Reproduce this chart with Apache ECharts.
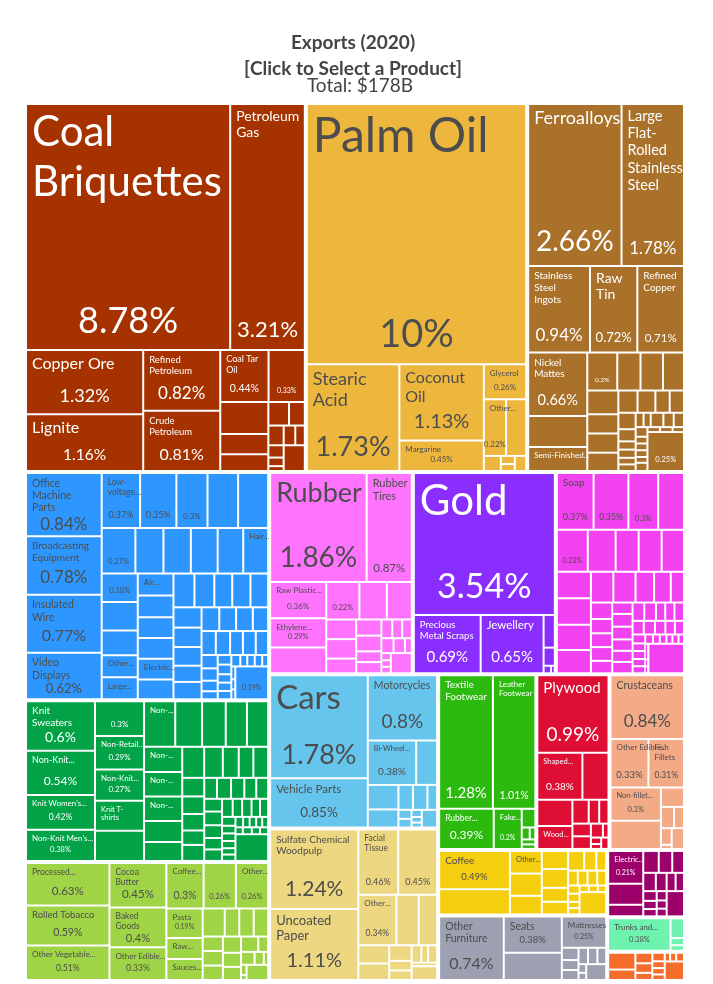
<!DOCTYPE html>
<html>
<head>
<meta charset="utf-8">
<style>html,body{margin:0;background:#fff}#main{width:713px;height:984px}</style>
<script src="https://cdn.jsdelivr.net/npm/echarts@6/dist/echarts.min.js"></script>
</head>
<body>
<div id="main"></div>
<script>
// share of exports in percent, in the order the cells appear. '' = cell too small to carry a name
const mineralNames = ['Coal Briquettes','Petroleum Gas','Copper Ore','Lignite','Refined Petroleum','Crude Petroleum','Coal Tar Oil'];
const mineralValues = [8.78,3.21,1.32,1.16,.82,.81,.44,.33,.27,.17,.14,.085,.065,.053,.04,.033,.033,.023,.013,.095];
const oilNames = ['Palm Oil','Stearic Acid','Coconut Oil','Margarine','Glycerol','Other...'];
const oilValues = [10,1.73,1.13,.45,.26,.22,.2,.045,.02,.017,.03];
const metalNames = ['Ferroalloys','Large Flat-Rolled Stainless Steel','Stainless Steel Ingots','Raw Tin','Refined Copper','Nickel Mattes','','Semi-Finished...'];
const metalValues = [2.66,1.78,.94,.72,.71,.66,.32,.25,.2,.155,.15,.14,.13,.105,.105,.1,.075,.07,.056,.056,.05,.037,.025,.025,.02,.02,.02,.018,.032,.026,.026,.02,.014,.014,.014,.012,.017,.011,.011,.01,.25];
const machineNames = ['Office Machine Parts','Broadcasting Equipment','Insulated Wire','Video Displays','Low-voltage...','','','','','','','','','','Hair...','','','','Other...','Large...','Air...','','','','Electric...'];
const machineValues = [.84,.78,.77,.62,.37,.35,.3,.295,.29,.27,.225,.22,.215,.205,.2,.18,.18,.157,.14,.14,.137,.137,.13,.13,.13,.124,.124,.118,.106,.108,.105,.1,.096,.092,.08,.086,.074,.07,.07,.064,.06,.06,.054,.054,.052,.038,.035,.03,.023,.023,.023,.02,.02,.02,.018,.014,.015,.015,.012,.009,.007,.007,.19];
const textileNames = ['Knit Sweaters','Non-Knit...',"Knit Women's...","Non-Knit Men's...",'','Non-Retail...','Non-Knit...','Knit T-shirts','','Non-...','','','','','Non-...','Non-...','Non-...'];
const textileValues = [.6,.54,.42,.38,.3,.29,.27,.26,.26,.25,.215,.19,.17,.17,.17,.165,.165,.14,.128,.12,.102,.087,.08,.081,.072,.068,.064,.056,.062,.047,.052,.049,.044,.044,.04,.043,.04,.036,.036,.034,.03,.03,.027,.026,.021,.018,.018,.017,.015,.015,.014,.012,.012,.011,.011,.009,.011,.01,.01,.154];
const foodNames = ['Processed...','Rolled Tobacco','Other Vegetable...','Cocoa Butter','Baked Goods','Other Edible...','Coffee...','','Other...','Pasta','Raw...','Sauces...'];
const foodValues = [.63,.59,.51,.45,.4,.33,.3,.26,.26,.19,.135,.135,.11,.072,.072,.072,.052,.052,.052,.052,.045,.042,.047,.027,.031,.021,.01,.01,.005,.058];
const rubberNames = ['Rubber','Rubber Tires','Raw Plastic...','Ethylene...'];
const rubberValues = [1.86,.87,.36,.29,.256,.22,.182,.166,.104,.103,.078,.072,.07,.048,.05,.036,.033,.032,.032,.03,.018,.012,.011,.011,.075];
const goldNames = ['Gold','Precious Metal Scraps','Jewellery'];
const goldValues = [3.54,.69,.65,.065,.036,.01,.005];
const chemNames = ['Soap'];
const chemValues = [.37,.35,.3,.26,.23,.207,.171,.171,.166,.16,.16,.153,.14,.122,.121,.101,.091,.072,.062,.054,.052,.052,.047,.041,.046,.046,.041,.04,.041,.038,.038,.03,.03,.031,.027,.027,.025,.023,.022,.02,.017,.018,.016,.016,.013,.011,.011,.01,.01,.009,.009,.004,.004,.186];
const carNames = ['Cars','Vehicle Parts','Motorcycles','Bi-Wheel...'];
const carValues = [1.78,.85,.8,.38,.165,.133,.098,.064,.064,.043,.021,.02,.013,.01,.009,.048];
const paperNames = ['Sulfate Chemical Woodpulp','Uncoated Paper','Facial Tissue','','Other...'];
const paperValues = [1.24,1.11,.46,.45,.34,.2,.165,.1,.09,.062,.038,.038,.03,.021,.028,.016,.062];
const shoeNames = ['Textile Footwear','Leather Footwear','Rubber...','Fake...'];
const shoeValues = [1.28,1.01,.39,.2,.045,.017,.012,.012,.011];
const woodNames = ['Plywood','Shaped...','','','Wood...'];
const woodValues = [.99,.38,.22,.165,.145,.07,.045,.04,.042,.042,.03,.014,.012,.009,.015];
const animalNames = ['Crustaceans','Other Edible...','Fish Fillets','Non-fillet...'];
const animalValues = [.84,.33,.31,.3,.255,.08,.05,.038,.032,.008,.046];
const coffeeNames = ['Coffee','','Other...'];
const coffeeValues = [.49,.32,.13,.128,.107,.086,.089,.066,.06,.057,.043,.035,.026,.026,.026,.024,.017,.017,.013,.013,.011,.011,.01,.107];
const furnitureNames = ['Other Furniture','Seats','','Mattresses'];
const furnitureValues = [.74,.38,.285,.25,.037,.03,.03,.028,.028,.026,.012,.01,.057];
const magentaNames = ['Electric...'];
const magentaValues = [.21,.135,.074,.062,.054,.047,.042,.036,.03,.028,.024,.02,.018,.017,.015,.014,.08];
const bagNames = ['Trunks and...'];
const bagValues = [.38,.05,.018,.014];
const orangeValues = [.087,.054,.034,.031,.023,.02,.016,.015,.013,.009,.01,.013,.068];

// label font sizes by cell index: [name, percent]; percent 0 hides the number
const DARK = '#4d4d4d', LIGHT = '#ffffff';
const groups = [
  {names: mineralNames, values: mineralValues, color: '#a63200', ink: LIGHT, fonts: {0:[42,36],1:[14,22],2:[16,18],3:[16,15.5],4:[9.5,17],5:[9.5,16],6:[9,10.5],7:[8,7]}},
  {names: oilNames, values: oilValues, color: '#edb73e', ink: DARK, fonts: {0:[48,38],1:[18,27],2:[16,20],3:[8,8],4:[8,8],5:[8,8]}},
  {names: metalNames, values: metalValues, color: '#a9712a', ink: LIGHT, fonts: {0:[18,28],1:[14.5,17],2:[10,17],3:[14,13],4:[10,11.5],5:[10,14.5],7:[8,0],8:[8,6.5],40:[7.5,7.5]}},
  {names: machineNames, values: machineValues, color: '#2e97ff', ink: DARK, fonts: {0:[10.5,17],1:[10,17],2:[10.5,16],3:[10.5,13],4:[8.5,9],5:[8,9],6:[8,8],9:[8,7.5],14:[8,0],15:[8,7.5],18:[8,0],19:[8,0],20:[8,0],24:[8,0],62:[8,7]}},
  {names: textileNames, values: textileValues, color: '#02a347', ink: LIGHT, fonts: {0:[10,14],1:[9,12],2:[8,8.5],3:[8,7.5],4:[8,8],5:[8,8],6:[8,8],7:[7.5,8],9:[8,0],14:[8,0],15:[8,0],16:[8,0]}},
  {names: foodNames, values: foodValues, color: '#a0d447', ink: DARK, fonts: {0:[8.5,11.5],1:[9.5,10.5],2:[8,8.5],3:[8.5,11.5],4:[8.5,11],5:[8,8.5],6:[8,10.5],7:[8,7.5],8:[8,7.5],9:[8,7],10:[8,0],11:[8,0]}},
  {names: rubberNames, values: rubberValues, color: '#ff73ff', ink: DARK, fonts: {0:[27,28],1:[11,11.5],2:[8,8],3:[8,7.5],5:[8,7.5]}},
  {names: goldNames, values: goldValues, color: '#892eff', ink: LIGHT, fonts: {0:[42,34],1:[9.5,15],2:[11.5,15]}},
  {names: chemNames, values: chemValues, color: '#f241f0', ink: DARK, fonts: {0:[10,9],1:[8,8.5],2:[8,7.5],4:[8,7]}},
  {names: carNames, values: carValues, color: '#65c5ed', ink: DARK, fonts: {0:[33,27],1:[11.5,13.5],2:[10.5,19],3:[7.5,10]}},
  {names: paperNames, values: paperValues, color: '#edd881', ink: DARK, fonts: {0:[10,21],1:[13,20],2:[8.5,9],3:[8,9],4:[8,8.5]}},
  {names: shoeNames, values: shoeValues, color: '#2cba0f', ink: LIGHT, fonts: {0:[10,15],1:[8,10.5],2:[8.5,12],3:[8,7]}},
  {names: woodNames, values: woodValues, color: '#de0e35', ink: LIGHT, fonts: {0:[15,19],1:[7.5,10],4:[7.5,0]}},
  {names: animalNames, values: animalValues, color: '#f3aa87', ink: DARK, fonts: {0:[10.5,17],1:[8,9.5],2:[8,8.5],3:[7.5,7.5]}},
  {names: coffeeNames, values: coffeeValues, color: '#f4ce0f', ink: DARK, fonts: {0:[10,9.5],2:[7.5,0]}},
  {names: furnitureNames, values: furnitureValues, color: '#9ca0b0', ink: DARK, fonts: {0:[10.5,16],1:[10.5,9.5],3:[8,7]}},
  {names: magentaNames, values: magentaValues, color: '#9c006b', ink: LIGHT, fonts: {0:[7.5,7]}},
  {names: bagNames, values: bagValues, color: '#6df2b0', ink: DARK, fonts: {0:[8,7.5]}},
  {names: [], values: orangeValues, color: '#f46d2a', ink: DARK, fonts: {}}
];

const FONT = 'Lato';
const ctx = document.createElement('canvas').getContext('2d');

// greedy wrap on spaces and after hyphens
function wrapName(name, size, width) {
  ctx.font = size + 'px ' + FONT;
  if (name.indexOf('...') >= 0 && name.indexOf('Low') < 0) return [name];
  const parts = name.replace(/-/g, '- ').split(' ');
  const lines = [];
  let cur = '';
  parts.forEach(p => {
    const joined = cur ? (cur.endsWith('-') ? cur + p : cur + ' ' + p) : p;
    if (cur && ctx.measureText(joined).width > width) {
      lines.push(cur);
      cur = p;
    } else {
      cur = joined;
    }
  });
  lines.push(cur);
  return lines;
}

function cellLabel(group, i, box) {
  const font = group.fonts[i];
  if (!font || !box) return {show: false};
  const name = group.names[i] || '';
  const rich = {};
  const rows = [];
  let used = 3;
  if (name) {
    const lineH = font[0] * 1.18;
    rich.n = {fontSize: font[0], lineHeight: lineH, align: 'left', padding: [0, 0, 0, 5], fontFamily: FONT, color: group.ink};
    wrapName(name, font[0], box.width - 9).forEach(l => {
      rows.push('{n|' + l + '}');
      used += lineH;
    });
  }
  if (font[1]) {
    const pctH = font[1] * 1.2;
    const gap = box.height - used - pctH - 6;
    if (gap > 0) {
      rich.g = {lineHeight: gap, fontSize: 1};
      rows.push('{g| }');
    }
    rich.p = {fontSize: font[1], lineHeight: pctH, align: 'center', fontFamily: FONT, color: group.ink};
    rows.push('{p|' + group.values[i] + '%}');
  }
  return {
    show: true,
    position: 'insideTopLeft',
    padding: [3, 0, 0, 0],
    overflow: 'none',
    formatter: rows.join('\n'),
    rich: rich
  };
}

function buildData(boxes) {
  return groups.map((group, g) => ({
    name: 'group' + g,
    value: group.values.reduce((a, b) => a + b, 0),
    itemStyle: {color: group.color},
    children: group.values.map((v, i) => ({
      name: group.names[i] || '',
      value: v,
      itemStyle: {color: group.color},
      label: cellLabel(group, i, boxes && boxes[g][i])
    }))
  }));
}

const chart = echarts.init(document.getElementById('main'), null, {renderer: 'canvas'});
const option = {
  animation: false,
  backgroundColor: '#fff',
  tooltip: {show: false},
  title: [
    {
      text: 'Exports (2020)\n{r|[}{b|Click to Select a Product}{r|]}',
      left: 348,
      top: 25,
      textAlign: 'center',
      textStyle: {
        fontFamily: FONT, fontSize: 19, fontWeight: 'bold', color: '#444', lineHeight: 26,
        rich: {
          b: {fontFamily: FONT, fontSize: 19, fontWeight: 'bold', color: '#444', lineHeight: 26},
          r: {fontFamily: FONT, fontSize: 19, color: '#444', lineHeight: 26}
        }
      }
    },
    {
      text: 'Total: $178B',
      left: 355,
      top: 71,
      textAlign: 'center',
      textStyle: {fontFamily: FONT, fontSize: 19, fontWeight: 'normal', color: '#444'}
    }
  ],
  series: [{
    type: 'treemap',
    id: 'exports',
    left: 27,
    top: 105,
    width: 656,
    height: 874,
    sort: false,
    roam: false,
    nodeClick: false,
    breadcrumb: {show: false},
    visibleMin: 0,
    childrenVisibleMin: 0,
    label: {show: false},
    upperLabel: {show: false},
    itemStyle: {borderWidth: 0},
    emphasis: {disabled: true},
    levels: [
      {itemStyle: {gapWidth: 4, borderWidth: 0}},
      {itemStyle: {gapWidth: 2, borderWidth: 0}},
      {itemStyle: {borderWidth: 0}}
    ],
    data: buildData(null)
  }]
};
chart.setOption(option);

// labels are fitted to the cells the library just laid out
const root = chart.getModel().getSeriesByIndex(0).getData().tree.root;
const boxes = root.children.map(g => g.children.map(c => c.getLayout()));
chart.setOption({series: [{id: 'exports', data: buildData(boxes)}]});
</script>
</body>
</html>
